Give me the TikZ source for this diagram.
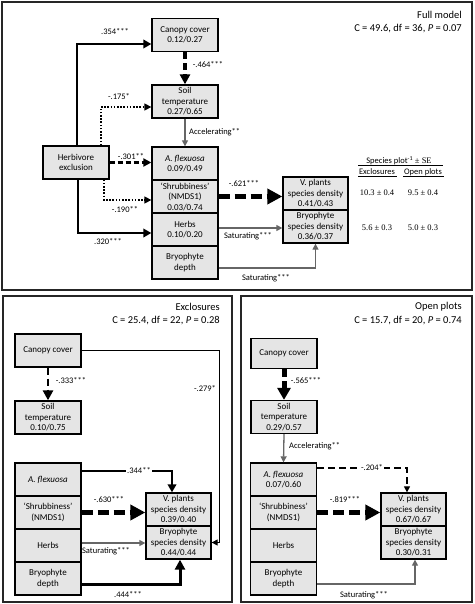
\documentclass[tikz,border=0pt]{standalone}
\usepackage{fontspec}
\setmainfont{Carlito}
\newfontfamily\tnr{Liberation Serif}
\usetikzlibrary{arrows.meta}

\begin{document}
\begin{tikzpicture}[x=1pt,y=-1pt]
	\tikzstyle{box}=[rectangle,draw=black,line width=1.3pt,fill=black!10,minimum width=66pt,minimum height=33pt,inner sep=0.5pt,align=center,font=\fontsize{9}{10.5}\selectfont]
	\tikzstyle{lab}=[inner sep=1pt,font=\fontsize{8.5}{10}\selectfont]
	\tikzstyle{ttl}=[inner sep=0pt,anchor=east,font=\fontsize{10.5}{12}\selectfont]
	\tikzstyle{num}=[inner sep=1pt,font=\tnr\fontsize{8.5}{10}\selectfont]
	\tikzstyle{frame}=[draw=black!85,line width=2pt]
	\tikzstyle{strongarr}=[line width=2.6pt,-{Triangle[length=8pt,width=8.5pt]}]
	\tikzstyle{thinarr}=[line width=1.2pt,-{Triangle[length=6pt,width=6pt]}]
	\tikzstyle{grayarr}=[draw=black!60,line width=1.3pt,-{Triangle[length=6pt,width=6pt]}]
	\tikzstyle{dotarr}=[line width=1.4pt,dash pattern=on 1.6pt off 1.6pt,-{Triangle[length=7pt,width=7pt]}]
	\tikzstyle{dasharr}=[line width=2.4pt,dash pattern=on 5pt off 3pt,-{Triangle[length=8pt,width=8pt]}]
	\tikzstyle{meddasharr}=[line width=3.2pt,dash pattern=on 7pt off 4pt,-{Triangle[length=10pt,width=10pt]}]
	\tikzstyle{bigdasharr}=[line width=5pt,dash pattern=on 11pt off 5pt,-{Triangle[length=15pt,width=15pt]}]
	\tikzstyle{longdasharr}=[line width=1.2pt,dash pattern=on 7pt off 4pt,-{Triangle[length=6pt,width=6pt]}]
	\useasboundingbox (0,0) rectangle (474,604);
	\draw[frame] (2,2) rectangle (472,290);
	\draw[frame] (3,296) rectangle (232,602);
	\draw[frame] (241,296) rectangle (472,602);

	% full model
	\node[ttl](t1) at (462,15) {Full model};
	\node[ttl](t2) at (462,29) {C = 49.6, df = 36, \textit{P} = 0.07};
	\node[box](cc) at (185,35) {Canopy cover\\0.12/0.27};
	\node[box](st) at (185,101.5) {Soil\\temperature\\0.27/0.65};
	\node[box](he) at (76,162.5) {Herbivore\\exclusion};
	\node[box](af) at (185,163.5) {\textit{A. flexuosa}\\0.09/0.49};
	\node[box](sh) at (185,196.5) {‘Shrubbiness’\\(NMDS1)\\0.03/0.74};
	\node[box](hb) at (185,229.5) {Herbs\\0.10/0.20};
	\node[box](bd) at (185,262.5) {Bryophyte\\depth};
	\node[box,minimum width=65pt](vp) at (315.5,193.5) {V. plants\\species density\\0.41/0.43};
	\node[box,minimum width=65pt](bs) at (315.5,226.5) {Bryophyte\\species density\\0.36/0.37};
	\draw[strongarr] ([xshift=1pt]he.north) |- ([yshift=-9pt]cc.west);
	\draw[dotarr] ([xshift=25pt]he.north) |- ([yshift=-5.5pt]st.west);
	\draw[meddasharr] (cc.south) -- (st.north);
	\draw[grayarr] (st.south) -- (af.north);
	\draw[dasharr] (he.east) -- (he.east -| af.west);
	\draw[dotarr] ([xshift=28pt]he.south) |- ([yshift=-3.5pt]sh.west);
	\draw[strongarr] ([xshift=2pt]he.south) |- ([yshift=-3.5pt]hb.west);
	\draw[bigdasharr] (sh.east) -- (sh.east -| vp.west);
	\draw[grayarr] ([yshift=1.5pt]hb.east) -- ([yshift=1.5pt]hb.east -| bs.west);
	\draw[grayarr] ([yshift=-5.5pt]bd.east) -| (bs.south);
	\node[lab](l1) at (115,32) {.354***};
	\node[lab](l2) at (119,97) {-.175*};
	\node[lab](l3) at (208,65) {-.464***};
	\node[lab,anchor=west](l4) at (188,132) {Accelerating**};
	\node[lab](l5) at (131,157) {-.301**};
	\node[lab](l6) at (125,210) {-.190**};
	\node[lab](l7) at (108,242) {.320***};
	\node[lab](l8) at (244,184) {-.621***};
	\node[lab](l9) at (248,236) {Saturating***};
	\node[lab](l10) at (266,278) {Saturating***};
	% table
	\node[lab](tb) at (399,161) {Species plot\textsuperscript{-1} {\tnr ± SE}};
	\node[lab](tx) at (377,172) {Exclosures};
	\node[lab](to) at (423,172) {Open plots};
	\draw[line width=0.6pt] (358,165.5) -- (443,165.5);
	\draw[line width=0.6pt] (358,176.5) -- (397,176.5);
	\draw[line width=0.6pt] (403,176.5) -- (444,176.5);
	\node[num](n1) at (377,193) {10.3 ± 0.4};
	\node[num](n2) at (423,193) {9.5 ± 0.4};
	\node[num](n3) at (377,228) {5.6 ± 0.3};
	\node[num](n4) at (423,228) {5.0 ± 0.3};

	% exclosures
	\node[ttl](t3) at (220,307) {Exclosures};
	\node[ttl](t4) at (220,321) {C = 25.4, df = 22, \textit{P} = 0.28};
	\node[box](cc2) at (48,350.5) {Canopy cover};
	\node[box](st2) at (48,417.5) {Soil\\temperature\\0.10/0.75};
	\node[box](af2) at (48,479.5) {\textit{A. flexuosa}};
	\node[box](sh2) at (48,512.5) {‘Shrubbiness’\\(NMDS1)};
	\node[box](hb2) at (48,545.5) {Herbs};
	\node[box](bd2) at (48,578.5) {Bryophyte\\depth};
	\node[box,minimum width=65pt](vp2) at (178.5,509.5) {V. plants\\species density\\0.39/0.40};
	\node[box,minimum width=65pt](bs2) at (178.5,542.5) {Bryophyte\\species density\\0.44/0.44};
	\draw[meddasharr,line width=2.8pt] (cc2.south) -- (st2.north);
	\draw[thinarr] (cc2.east) -- ++(138,0) |- (bs2.east);
	\draw[strongarr] ([yshift=8.5pt]af2.east) -| ([xshift=-6.5pt]vp2.north);
	\draw[bigdasharr] (sh2.east) -- (sh2.east -| vp2.west);
	\draw[grayarr] ([yshift=2.5pt]hb2.east) -- ([yshift=2.5pt]hb2.east -| bs2.west);
	\draw[strongarr,line width=3pt,-{Triangle[length=10pt,width=10pt]}] ([yshift=-5.5pt]bd2.east) -| ([xshift=1.5pt]bs2.south);
	\node[lab](l11) at (71,381) {-.333***};
	\node[lab](l12) at (205,389) {-.279*};
	\node[lab,fill=white](l13) at (139,471) {.344**};
	\node[lab](l14) at (109,500) {-.630***};
	\node[lab](l15) at (106,551) {Saturating***};
	\node[lab](l16) at (128,595) {.444***};

	% open plots
	\node[ttl](t5) at (462,307) {Open plots};
	\node[ttl](t6) at (462,321) {C = 15.7, df = 20, \textit{P} = 0.74};
	\node[box,minimum height=30pt](cc3) at (284,353.5) {Canopy cover};
	\node[box](st3) at (284,417) {Soil\\temperature\\0.29/0.57};
	\node[box](af3) at (283.5,479.5) {\textit{A. flexuosa}\\0.07/0.60};
	\node[box](sh3) at (283.5,512.5) {‘Shrubbiness’\\(NMDS1)};
	\node[box](hb3) at (283.5,545.5) {Herbs};
	\node[box](bd3) at (283.5,578.5) {Bryophyte\\depth};
	\node[box,minimum width=65pt](vp3) at (413.5,509.5) {V. plants\\species density\\0.67/0.67};
	\node[box,minimum width=65pt](bs3) at (413.5,542.5) {Bryophyte\\species density\\0.30/0.31};
	\draw[bigdasharr,dash pattern=on 8pt off 4pt,-{Triangle[length=12pt,width=13pt]}] (cc3.south) -- (st3.north);
	\draw[grayarr] (st3.south) -- (af3.north);
	\draw[longdasharr] ([yshift=11.5pt]af3.east) -| ([xshift=-6.5pt]vp3.north);
	\draw[bigdasharr] (sh3.east) -- (sh3.east -| vp3.west);
	\draw[grayarr] ([yshift=-5.5pt]bd3.east) -| ([xshift=1.5pt]bs3.south);
	\node[lab](l17) at (306,381) {-.565***};
	\node[lab,anchor=west](l18) at (288,446) {Accelerating**};
	\node[lab,fill=white](l19) at (372,468) {-.204*};
	\node[lab](l20) at (345,500) {-.819***};
	\node[lab](l21) at (364,595) {Saturating***};
\end{tikzpicture}
\end{document}
